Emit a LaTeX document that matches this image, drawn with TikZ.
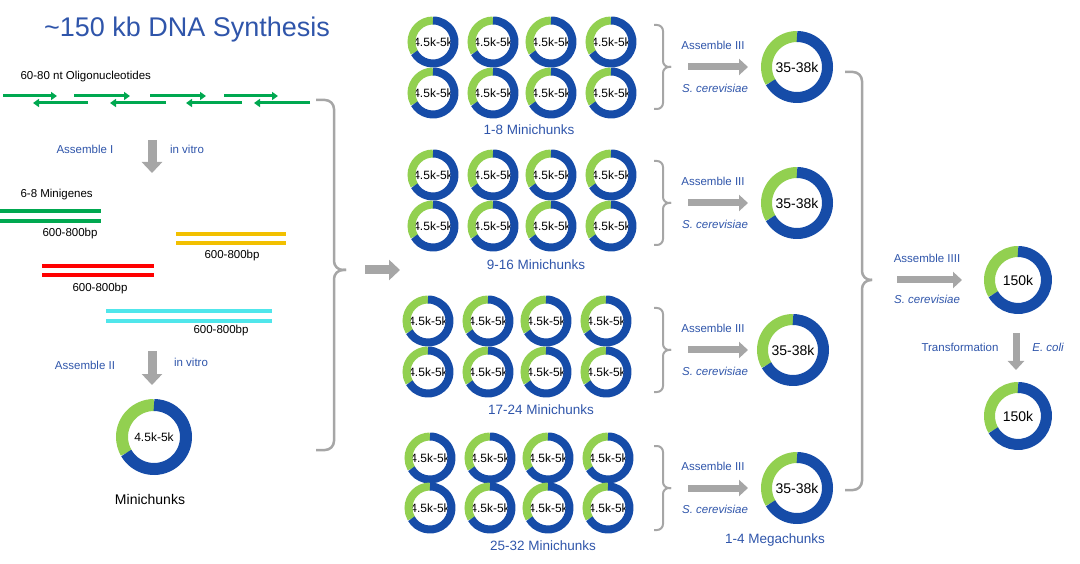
\documentclass[tikz,border=0pt]{standalone}
\usepackage{fontspec}
\setmainfont{Liberation Sans}
\usetikzlibrary{arrows.meta}
\definecolor{tb}{RGB}{47,85,170}
\definecolor{rb}{RGB}{22,76,168}
\definecolor{rg}{RGB}{146,208,80}
\definecolor{gr}{RGB}{166,166,166}
\definecolor{og}{RGB}{0,168,80}
\definecolor{yl}{RGB}{242,192,0}
\definecolor{cy}{RGB}{80,230,235}
\tikzset{
 lab/.style={text=tb,font=\fontsize{11.5}{13}\selectfont},
 labi/.style={lab,font=\fontsize{11.5}{13}\selectfont\itshape},
 blk/.style={font=\fontsize{11.5}{13}\selectfont},
 grp/.style={text=tb,font=\fontsize{13.5}{15}\selectfont},
 big/.style={line width=9pt,gr,-{Triangle[width=20pt,length=11pt]}},
 brace/.style={gr,line width=2.5pt,rounded corners=9pt},
 olr/.style={og,line width=3pt,-{Triangle[width=8pt,length=6pt]}},
 bar/.style={line width=4.5pt},
 pics/ring/.style args={#1/#2/#3/#4}{code={
   \node[circle,minimum size=2*#2pt,inner sep=0pt,font=\fontsize{#4}{#4}\selectfont] (-c) {#3};
   \draw[rg,line width=#1pt-#2pt] (0,0) ++(90:{(#1+#2)/2*1pt}) arc[start angle=90,end angle=210,radius={(#1+#2)/2*1pt}];
   \draw[rb,line width=#1pt-#2pt] (0,0) ++(210:{(#1+#2)/2*1pt}) arc[start angle=210,end angle=450,radius={(#1+#2)/2*1pt}];
 }}
}
\begin{document}
\begin{tikzpicture}[x=1pt,y=-1pt]
\useasboundingbox (0,0) rectangle (1080,564);
\node[text=tb,font=\fontsize{27}{31}\selectfont] (title) at (187,30) {\textasciitilde150 kb DNA Synthesis};
\node[blk,anchor=west] (oligo) at (17,77) {60-80 nt Oligonucleotides};
% oligos
\foreach \a/\b [count=\i] in {3/57,74/130,150/206,224/278}{\coordinate (ta\i) at (\a,96); \coordinate (tb\i) at (\b,96); \draw[olr] (ta\i) -- (tb\i);}
\foreach \a/\b [count=\i] in {33/88,110/166,186/242,254/310}{\coordinate (ba\i) at (\b,103); \coordinate (bb\i) at (\a,103); \draw[olr] (ba\i) -- (bb\i);}
\coordinate (a1s) at (152,140); \coordinate (a1e) at (152,173);
\draw[big] (a1s) -- (a1e);
\node[lab] (as1) at (85,149) {Assemble I};
\node[lab] (iv1) at (187,149) {in vitro};
\node[blk,anchor=west] (mg) at (17,195) {6-8 Minigenes};
% bars
\draw[bar,og] (0,211) -- (101,211) (0,221) -- (101,221);
\draw[bar,yl] (176,234) -- (286,234) (176,243) -- (286,243);
\draw[bar,red] (42,266) -- (154,266) (42,275) -- (154,275);
\draw[bar,cy] (106,311) -- (272,311) (106,321) -- (272,321);
\node[blk] (b1) at (70,234) {600-800bp};
\node[blk] (b2) at (232,256) {600-800bp};
\node[blk] (b3) at (100,289) {600-800bp};
\node[blk] (b4) at (221,331) {600-800bp};
\coordinate (a2s) at (152,351); \coordinate (a2e) at (152,385);
\draw[big] (a2s) -- (a2e);
\node[lab] (as2) at (85,365) {Assemble II};
\node[lab] (iv2) at (191,362) {in vitro};
\pic (mc) at (154,437) {ring={38/26/4.5k-5k/12}};
\node[font=\fontsize{14}{16}\selectfont] (mcl) at (150,499) {Minichunks};
% left brace
\draw[brace] (316,100) -- (334,100) -- (334,270) -- (346,270);
\draw[brace] (346,270) -- (334,270) -- (334,450) -- (316,450);
\coordinate (lbs) at (365,270); \coordinate (lbe) at (400,270);
\draw[big] (lbs) -- (lbe);
% groups
\foreach \xs/\ya/\yb/\g/\lx/\ly/\txt/\by/\big in {
  433/42/93/1/529/130/1-8 Minichunks/67/797,
  433/175/226/2/536/265/9-16 Minichunks/203/797,
  428/321/372/3/541/410/17-24 Minichunks/350/793,
  430/458/508/4/543/546/25-32 Minichunks/488/797}{
  \foreach \dx [count=\k] in {0,60,118,178}{
    \pic (r\g a\k) at (\xs+\dx,\ya) {ring={25.5/17.5/4.5k-5k/12}};
    \pic (r\g b\k) at (\xs+\dx,\yb) {ring={25.5/17.5/4.5k-5k/12}};
  }
  \node[grp] (gl\g) at (\lx,\ly) {\txt};
  \draw[brace,line width=2pt,rounded corners=6pt] (654,\by-42) -- (663,\by-42) -- (663,\by) -- (671,\by);
  \draw[brace,line width=2pt,rounded corners=6pt] (671,\by) -- (663,\by) -- (663,\by+42) -- (654,\by+42);
  \coordinate (gs\g) at (688,\by); \coordinate (ge\g) at (748,\by);
  \draw[big,line width=7pt,-{Triangle[width=16pt,length=9pt]}] (gs\g) -- (ge\g);
  \node[lab] (a3\g) at (713,\by-22) {Assemble III};
  \node[labi] (s3\g) at (715,\by+21) {S. cerevisiae};
  \pic (M\g) at (\big,\by) {ring={36/25/35-38k/14}};
}
\node[grp] (mega) at (775,540) {1-4 Megachunks};
% right brace
\draw[brace] (845,72) -- (862,72) -- (862,280) -- (872,280);
\draw[brace] (872,280) -- (862,280) -- (862,490) -- (845,490);
\coordinate (a4s) at (897,280); \coordinate (a4e) at (962,280);
\draw[big,line width=7pt,-{Triangle[width=16pt,length=9pt]}] (a4s) -- (a4e);
\node[lab] (as4) at (927,258) {Assemble IIII};
\node[labi] (sc4) at (927,299) {S. cerevisiae};
\pic (F1) at (1018,280) {ring={34/23/150k/14}};
\coordinate (a5s) at (1016,333); \coordinate (a5e) at (1016,370);
\draw[big,line width=7pt,-{Triangle[width=16pt,length=9pt]}] (a5s) -- (a5e);
\node[lab] (tr) at (960,347) {Transformation};
\node[labi] (ec) at (1048,347) {E. coli};
\pic (F2) at (1018,416) {ring={34/23/150k/14}};
\end{tikzpicture}
\end{document}
